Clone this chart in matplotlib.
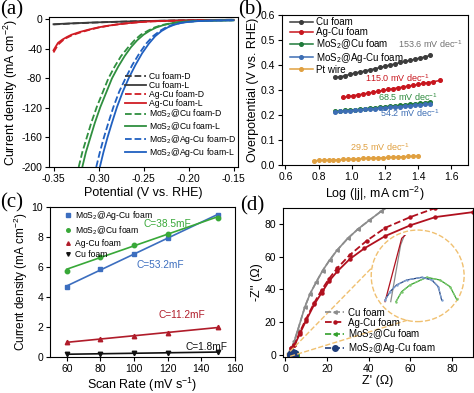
import numpy as np
import matplotlib
matplotlib.use('Agg')
import matplotlib.pyplot as plt
from matplotlib.patches import Ellipse

# ---- (a) LSV curves: potential (V vs RHE) / current density (mA cm-2)
cu_L_E = [-0.35, -0.33, -0.31, -0.29, -0.27, -0.25, -0.23, -0.21, -0.19, -0.17, -0.15]
cu_L_j = [-6.8, -5.6, -4.6, -3.8, -3.1, -2.5, -2.0, -1.6, -1.2, -0.9, -0.7]
cu_D_E = [-0.35, -0.33, -0.31, -0.29, -0.27, -0.25, -0.23, -0.21, -0.19, -0.17, -0.15]
cu_D_j = [-7.1, -5.8, -4.8, -3.9, -3.2, -2.6, -2.1, -1.6, -1.3, -1.0, -0.7]
agcu_E = [-0.35, -0.345, -0.34, -0.335, -0.33, -0.32, -0.31, -0.30, -0.29, -0.28,
          -0.27, -0.26, -0.25, -0.24, -0.22, -0.20, -0.18, -0.15]
agcu_L_j = [-42, -32, -27.5, -24, -21, -17, -13.8, -11, -8.9, -7.1,
            -5.7, -4.5, -3.5, -2.8, -2.1, -1.7, -1.4, -1.1]
agcu_D_j = [-45, -34.5, -29, -25, -22, -17.8, -14.3, -11.3, -9.1, -7.3,
            -5.8, -4.6, -3.6, -2.9, -2.2, -1.8, -1.5, -1.2]
mos_j = [-200, -180, -160, -140, -119, -98, -80, -64, -50, -38, -28.5, -21,
         -15.5, -11.3, -8, -5.8, -4, -3, -2, -1.5]
mos_cu_L_E = [-0.318, -0.314, -0.309, -0.304, -0.298, -0.291, -0.285, -0.278, -0.271, -0.264,
              -0.257, -0.250, -0.243, -0.236, -0.228, -0.220, -0.210, -0.200, -0.180, -0.150]
mos_cu_D_E = [-0.322, -0.318, -0.313, -0.308, -0.302, -0.295, -0.289, -0.282, -0.275, -0.267,
              -0.260, -0.253, -0.245, -0.238, -0.230, -0.221, -0.211, -0.201, -0.181, -0.150]
mos_ag_j = [-200, -180, -160, -140, -119, -98, -80, -62, -46, -33, -23, -16,
            -11, -7.5, -5, -3.6, -2.6, -1.9, -1.4]
mos_ag_L_E = [-0.2985, -0.2945, -0.290, -0.285, -0.2795, -0.273, -0.2665, -0.259, -0.2515, -0.244,
              -0.237, -0.230, -0.223, -0.216, -0.208, -0.200, -0.190, -0.175, -0.150]
mos_ag_D_E = [-0.3025, -0.2985, -0.294, -0.289, -0.2835, -0.277, -0.270, -0.2625, -0.2545, -0.247,
              -0.2395, -0.232, -0.225, -0.2175, -0.209, -0.201, -0.191, -0.176, -0.150]

# ---- (b) Tafel: log|j| / overpotential (V)
taf_x = [0.90, 0.93, 0.96, 0.99, 1.02, 1.05, 1.08, 1.11, 1.14, 1.17,
         1.20, 1.23, 1.26, 1.29, 1.32, 1.35, 1.38, 1.41, 1.44, 1.47]
taf_cu = [0.350, 0.353, 0.357, 0.363, 0.368, 0.372, 0.376, 0.381, 0.385, 0.390,
          0.395, 0.400, 0.404, 0.410, 0.414, 0.418, 0.423, 0.428, 0.432, 0.438]
taf_agcu_x = [0.95, 0.98, 1.01, 1.04, 1.07, 1.10, 1.13, 1.16, 1.19, 1.22,
              1.25, 1.28, 1.31, 1.34, 1.37, 1.40, 1.43, 1.46, 1.49, 1.53]
taf_agcu = [0.270, 0.274, 0.277, 0.281, 0.284, 0.288, 0.291, 0.295, 0.298, 0.302,
            0.305, 0.309, 0.312, 0.316, 0.319, 0.322, 0.326, 0.329, 0.333, 0.338]
taf_moscu = [0.214, 0.216, 0.218, 0.220, 0.221, 0.223, 0.225, 0.228, 0.229, 0.231,
             0.233, 0.236, 0.237, 0.239, 0.241, 0.244, 0.245, 0.247, 0.249, 0.253]
taf_mosag = [0.212, 0.214, 0.215, 0.217, 0.219, 0.220, 0.222, 0.224, 0.225, 0.227,
             0.229, 0.230, 0.232, 0.233, 0.235, 0.237, 0.239, 0.240, 0.242, 0.244]
taf_pt_x = [0.77, 0.80, 0.83, 0.86, 0.89, 0.92, 0.95, 0.98, 1.01, 1.04, 1.07,
            1.10, 1.13, 1.16, 1.19, 1.22, 1.25, 1.28, 1.31, 1.34, 1.37, 1.40]
taf_pt = [0.017, 0.018, 0.019, 0.020, 0.020, 0.021, 0.022, 0.023, 0.024, 0.025, 0.026,
          0.027, 0.027, 0.028, 0.029, 0.030, 0.031, 0.032, 0.033, 0.034, 0.035, 0.036]
tafel_labels = ['153.6 mV dec$^{-1}$', '115.0 mV dec$^{-1}$', '68.5 mV dec$^{-1}$',
                '54.2 mV dec$^{-1}$', '29.5 mV dec$^{-1}$']

# ---- (c) double layer capacitance
scan_rate = [60, 80, 100, 120, 150]
cdl_mosag = [4.7, 5.85, 6.85, 7.95, 9.5]
cdl_moscu = [5.75, 6.7, 7.5, 8.2, 9.3]
cdl_agcu = [1.0, 1.2, 1.4, 1.6, 2.0]
cdl_cu = [0.18, 0.22, 0.25, 0.28, 0.33]
cdl_labels = ['C=53.2mF', 'C=38.5mF', 'C=11.2mF', 'C=1.8mF']

# ---- (d) Nyquist
eis_cu_x = [2.51, 2.98, 4.5, 6, 9.5, 12, 15, 18, 21.3, 25, 30, 35, 40.3, 46, 50]
eis_cu_y = [0.21, 3.77, 9, 15, 29.5, 37.5, 44.7, 51.5, 57.8, 64, 71, 76.8, 82, 87.5, 91]
eis_agcu_L_x = [2.24, 3.03, 4.5, 7, 10, 14, 17.5, 21, 25, 31, 38, 48, 60, 72, 90]
eis_agcu_L_y = [0.21, 4.19, 6, 13, 21, 31, 38, 45, 51, 58.5, 65, 72.5, 79, 84, 87]
eis_agcu_D_x = [2.24, 3.03, 4.5, 7, 10, 14, 17.5, 21, 25, 31, 39, 48, 60, 72, 78]
eis_agcu_D_y = [0.21, 4.19, 6.3, 14, 22, 32, 39.7, 46.5, 53, 61, 69.5, 77.5, 84, 89.5, 92]
eis_moscu_x = [2.76, 3.03, 3.43, 4.22, 4.85, 5.33, 5.64]
eis_moscu_y = [0.21, 0.84, 1.26, 1.74, 1.57, 1.15, 0.36]
eis_mosag_x = [2.24, 2.48, 2.79, 3.27, 3.98, 4.46, 4.77, 4.93]
eis_mosag_y = [0.31, 0.84, 1.26, 1.57, 1.74, 1.57, 1.15, 0.31]

c_gray = '#3a3a3a'
c_red = '#d01c24'
c_green = '#2f8f3f'
c_blue = '#2060c0'

plt.rcParams['font.family'] = ['Liberation Sans', 'DejaVu Sans']
plt.rcParams['mathtext.default'] = 'regular'
plt.rcParams['axes.unicode_minus'] = False
plt.rcParams['axes.linewidth'] = 0.8
plt.rcParams['xtick.labelsize'] = 7.5
plt.rcParams['ytick.labelsize'] = 7.5
plt.rcParams['xtick.major.size'] = 3
plt.rcParams['ytick.major.size'] = 3
plt.rcParams['xtick.major.width'] = 0.8
plt.rcParams['ytick.major.width'] = 0.8
plt.rcParams['axes.labelsize'] = 9
plt.rcParams['xtick.major.pad'] = 2
plt.rcParams['ytick.major.pad'] = 2

W, H = 474, 393
fig = plt.figure(figsize=(W / 100, H / 100), dpi=100)

def px_axes(l, t, r, b):
    return fig.add_axes([l / W, 1 - b / H, (r - l) / W, (b - t) / H])

ax_a = px_axes(49, 17, 238, 167)
ax_b = px_axes(282, 15, 468, 165)
ax_c = px_axes(50, 207, 235, 357)
ax_d = px_axes(283, 208, 473, 357)

# (a)
lw = 1.3
ax_a.plot(cu_D_E, cu_D_j, '--', color=c_gray, lw=lw, label='Cu foam-D')
ax_a.plot(cu_L_E, cu_L_j, '-', color=c_gray, lw=lw, label='Cu foam-L')
ax_a.plot(agcu_E, agcu_D_j, '--', color=c_red, lw=lw, label='Ag-Cu foam-D')
ax_a.plot(agcu_E, agcu_L_j, '-', color=c_red, lw=lw, label='Ag-Cu foam-L')
ax_a.plot(mos_cu_D_E, mos_j, '--', color=c_green, lw=lw, label='MoS$_2$@Cu foam-D')
ax_a.plot(mos_cu_L_E, mos_j, '-', color=c_green, lw=lw, label='MoS$_2$@Cu foam-L')
ax_a.plot(mos_ag_D_E, mos_ag_j, '--', color=c_blue, lw=lw, label='MoS$_2$@Ag-Cu foam-D')
ax_a.plot(mos_ag_L_E, mos_ag_j, '-', color=c_blue, lw=lw, label='MoS$_2$@Ag-Cu foam-L')
ax_a.set_xlim(-0.355, -0.145)
ax_a.set_ylim(-200, 3)
ax_a.set_xticks([-0.35, -0.30, -0.25, -0.20, -0.15])
ax_a.set_xticklabels(['-0.35', '-0.30', '-0.25', '-0.20', '-0.15'])
ax_a.set_yticks([0, -40, -80, -120, -160, -200])
ax_a.set_xlabel('Potential (V vs. RHE)', labelpad=2)
ax_a.set_ylabel('Current density (mA cm$^{-2}$)', labelpad=1)
ax_a.legend(loc='upper left', bbox_to_anchor=(0.38, 0.665), frameon=False, fontsize=6.2,
            handlelength=2.4, handletextpad=0.4, labelspacing=0.0, borderpad=0.0)

# (b)
cb_gray, cb_red, cb_green, cb_blue, cb_or = '#3c3c3c', '#c8161e', '#1f7a3a', '#3d6eb4', '#e0a040'
ms = 2.6
ax_b.plot(taf_x, taf_cu, '-o', color=cb_gray, ms=ms, lw=1.1, label='Cu foam')
ax_b.plot(taf_agcu_x, taf_agcu, '-o', color=cb_red, ms=ms, lw=1.1, label='Ag-Cu foam')
ax_b.plot(taf_x, taf_moscu, '-o', color=cb_green, ms=ms, lw=1.1, label='MoS$_2$@Cu foam')
ax_b.plot(taf_x, taf_mosag, '-o', color=cb_blue, ms=ms, lw=1.1, label='MoS$_2$@Ag-Cu foam')
ax_b.plot(taf_pt_x, taf_pt, '-o', color=cb_or, ms=ms, lw=1.1, label='Pt wire')
ax_b.set_xlim(0.58, 1.7)
ax_b.set_ylim(0, 0.6)
ax_b.set_xticks([0.6, 0.8, 1.0, 1.2, 1.4, 1.6])
ax_b.set_yticks([0.0, 0.1, 0.2, 0.3, 0.4, 0.5, 0.6])
ax_b.xaxis.set_major_formatter(plt.FormatStrFormatter('%.1f'))
ax_b.yaxis.set_major_formatter(plt.FormatStrFormatter('%.1f'))
ax_b.set_xlabel('Log (|j|, mA cm$^{-2}$)', labelpad=2)
ax_b.set_ylabel('Overpotential (V vs. RHE)', labelpad=1)
ax_b.legend(loc='upper left', bbox_to_anchor=(0.01, 1.025), frameon=False, fontsize=7,
            handlelength=2.4, handletextpad=0.3, labelspacing=0.0, borderpad=0.1)
for txt, (tx, ty), col in zip(tafel_labels,
                              [(1.47, 0.485), (1.276, 0.347), (1.34, 0.273), (1.35, 0.207), (1.17, 0.073)],
                              ['#707070', cb_red, '#2e8b3e', cb_blue, cb_or]):
    ax_b.text(tx, ty, txt, color=col, fontsize=6.5, ha='center', va='center')

# (c)
cc_blue, cc_green, cc_red, cc_black = '#3c6ebf', '#38a838', '#b01c2a', '#111111'
series_c = [(cdl_mosag, cc_blue, 's', 'MoS$_2$@Ag-Cu foam'),
            (cdl_moscu, cc_green, 'o', 'MoS$_2$@Cu foam'),
            (cdl_agcu, cc_red, '^', 'Ag-Cu foam'),
            (cdl_cu, cc_black, 'v', 'Cu foam')]
for vals, col, mk, lab in series_c:
    k, b0 = np.polyfit(scan_rate, vals, 1)
    xs = np.array([scan_rate[0], scan_rate[-1]])
    ax_c.plot(xs, k * xs + b0, '-', color=col, lw=1.2)
    ax_c.plot(scan_rate, vals, mk, color=col, ms=3.2, ls='none', label=lab)
ax_c.set_xlim(50, 160)
ax_c.set_ylim(0, 10)
ax_c.set_xticks([60, 80, 100, 120, 140, 160])
ax_c.set_yticks([0, 2, 4, 6, 8, 10])
ax_c.set_xlabel('Scan Rate (mV s$^{-1}$)', labelpad=1)
ax_c.set_ylabel('Current density (mA cm$^{-2}$)', labelpad=1, fontsize=8.5)
ax_c.legend(loc='upper left', bbox_to_anchor=(0.05, 1.02), frameon=False, fontsize=6.2,
            handlelength=0.8, handletextpad=0.4, labelspacing=0.25, borderpad=0.1,
            markerscale=0.8)
for txt, (tx, ty), col in zip(cdl_labels,
                              [(115.4, 6.13), (119.5, 8.85), (128.3, 2.8), (143.2, 0.69)],
                              [cc_blue, cc_green, cc_red, cc_black]):
    ax_c.text(tx, ty, txt, color=col, fontsize=7.3, ha='center', va='center')

# (d)
cd_gray, cd_red, cd_green, cd_navy, cd_or = '#8c8c8c', '#b0101e', '#33a02c', '#1f3d7a', '#f0c070'
ax_d.plot(eis_cu_x, eis_cu_y, '-', color=cd_gray, lw=1.2)
ax_d.plot(eis_cu_x, eis_cu_y, '--', color=cd_gray, lw=1.2, marker='<', ms=2.5, label='Cu foam')
ax_d.plot(eis_agcu_L_x, eis_agcu_L_y, '-', color=cd_red, lw=1.3, marker='o', ms=2.2)
ax_d.plot(eis_agcu_D_x, eis_agcu_D_y, '--', color=cd_red, lw=1.3, marker='o', ms=2.2, label='Ag-Cu foam')
ax_d.plot(eis_moscu_x, eis_moscu_y, '--', color=cd_green, lw=1.2, marker='<', ms=2.5, label='MoS$_2$@Cu foam')
ax_d.plot(eis_mosag_x, eis_mosag_y, '--', color=cd_navy, lw=1.2, marker='o', ms=4, label='MoS$_2$@Ag-Cu foam')
ax_d.add_patch(Ellipse((63.5, 48.3), 44.5, 55.6, fill=False, ls='--', ec=cd_or, lw=1.0))
ax_d.add_patch(Ellipse((3.5, 0.5), 5, 6, fill=False, ls='--', ec=cd_or, lw=1.0))
ax_d.plot([2.4, 42], [2.4, 53.8], '--', color=cd_or, lw=1.0)
ax_d.plot([2.4, 59.2], [-0.6, 21.6], '--', color=cd_or, lw=1.0)
ax_d.set_xlim(-1, 90)
ax_d.set_ylim(-1, 89.5)
ax_d.set_xticks([0, 20, 40, 60, 80])
ax_d.set_yticks([0, 20, 40, 60, 80])
ax_d.set_xlabel("Z' (Ω)", labelpad=1)
ax_d.set_ylabel("-Z'' (Ω)", labelpad=1)
ax_d.legend(loc='upper left', bbox_to_anchor=(0.19, 0.37), frameon=False, fontsize=7,
            handlelength=2.0, handletextpad=0.4, labelspacing=0.0, borderpad=0.1)

# zoomed inset of the high-frequency region
ins = px_axes(380, 235, 460, 305)
ins.patch.set_alpha(0)
ins.plot(eis_cu_x, eis_cu_y, '-', color=cd_gray, lw=0.9)
ins.plot(eis_agcu_L_x, eis_agcu_L_y, '-', color=cd_red, lw=0.9)
ins.plot(eis_moscu_x, eis_moscu_y, '-', color=cd_green, lw=0.9)
ins.plot(eis_moscu_x, eis_moscu_y, '--', color='#7cc870', lw=0.9, marker='.', ms=1.5)
ins.plot(eis_mosag_x, eis_mosag_y, '-', color=cd_navy, lw=0.9)
ins.plot(eis_mosag_x, eis_mosag_y, '--', color='#7fa0d0', lw=0.9, marker='.', ms=1.5)
ins.set_xlim(2.0, 5.8)
ins.set_ylim(0, 4.4)
ins.axis('off')

for ax in (ax_a, ax_b, ax_c, ax_d):
    ax.tick_params(direction='out', top=False, right=False)

for lab, (x, y) in zip(['(a)', '(b)', '(c)', '(d)'], [(0, 0), (238, 0), (0, 193), (240, 196)]):
    fig.text(x / W, 1 - y / H, lab, family=['Liberation Serif', 'DejaVu Serif'],
             fontsize=15, ha='left', va='top')

fig.savefig('out.png', dpi=100)
